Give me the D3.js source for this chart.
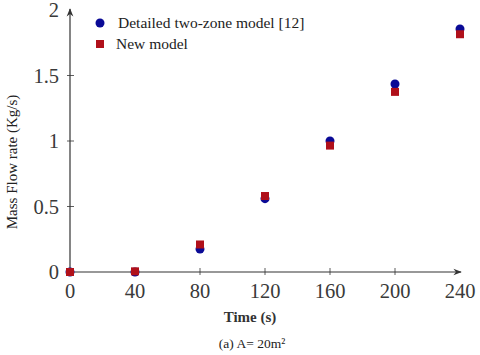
<!DOCTYPE html>
<html>
<head>
  <meta charset="utf-8">
  <script src="https://d3js.org/d3.v7.min.js"></script>
  <style>
    body { margin: 0; background: #fff; }
    text { font-family: "Liberation Serif", "Times New Roman", serif; }
  </style>
</head>
<body>
  <script>
    var times = [0, 40, 80, 120, 160, 200, 240];
    var detailed = [0, 0, 0.175, 0.56, 1.0, 1.435, 1.855];
    var newModel = [0, 0.005, 0.21, 0.58, 0.965, 1.375, 1.815];
    var xTicks = [0, 40, 80, 120, 160, 200, 240];
    var yTicks = [0, 0.5, 1, 1.5, 2];
    var yLabels = ["0", "0.5", "1", "1.5", "2"];

    var svg = d3.select("body").append("svg")
      .attr("width", 480)
      .attr("height", 355);

    var x = d3.scaleLinear().domain([0, 240]).range([70, 460]);
    var y = d3.scaleLinear().domain([0, 2]).range([272, 10]);

    var axisColor = "#333";

    // arrow marker
    svg.append("defs").append("marker")
      .attr("id", "arr")
      .attr("viewBox", "0 0 10 10")
      .attr("refX", 9).attr("refY", 5)
      .attr("markerWidth", 7).attr("markerHeight", 7)
      .attr("orient", "auto")
      .append("path")
      .attr("d", "M0,1 L10,5 L0,9 L3,5 Z")
      .attr("fill", axisColor);

    // x axis line
    svg.append("line")
      .attr("x1", x(0)).attr("x2", x(240) + 1)
      .attr("y1", y(0)).attr("y2", y(0))
      .attr("stroke", axisColor).attr("stroke-width", 1.2)
      .attr("marker-end", "url(#arr)");

    // y axis line
    svg.append("line")
      .attr("x1", x(0)).attr("x2", x(0))
      .attr("y1", y(0)).attr("y2", y(2) - 1)
      .attr("stroke", axisColor).attr("stroke-width", 1.2)
      .attr("marker-end", "url(#arr)");

    // x ticks
    svg.selectAll(".xt").data(xTicks.filter(function(d) { return d > 0 && d < 240; }))
      .enter().append("line")
      .attr("x1", function(d) { return x(d); }).attr("x2", function(d) { return x(d); })
      .attr("y1", y(0) - 4).attr("y2", y(0) + 3)
      .attr("stroke", axisColor).attr("stroke-width", 0.8);

    svg.selectAll(".xl").data(xTicks)
      .enter().append("text")
      .attr("x", function(d) { return x(d); })
      .attr("y", y(0) + 26)
      .attr("text-anchor", "middle")
      .attr("font-size", 20.5)
      .attr("fill", "#3a3a3a")
      .text(function(d) { return d; });

    // y ticks
    svg.selectAll(".yt").data(yTicks.filter(function(d) { return d > 0 && d < 2; }))
      .enter().append("line")
      .attr("x1", x(0) - 3).attr("x2", x(0) + 4)
      .attr("y1", function(d) { return y(d); }).attr("y2", function(d) { return y(d); })
      .attr("stroke", axisColor).attr("stroke-width", 0.8);

    svg.selectAll(".yl").data(yTicks)
      .enter().append("text")
      .attr("x", x(0) - 11)
      .attr("y", function(d) { return y(d) + 7; })
      .attr("text-anchor", "end")
      .attr("font-size", 20.5)
      .attr("fill", "#3a3a3a")
      .text(function(d, i) { return yLabels[i]; });

    // data points
    svg.selectAll(".det").data(times)
      .enter().append("circle")
      .attr("cx", function(d) { return x(d); })
      .attr("cy", function(d, i) { return y(detailed[i]); })
      .attr("r", 4.5)
      .attr("fill", "#0a0a96");

    svg.selectAll(".nm").data(times)
      .enter().append("rect")
      .attr("x", function(d) { return x(d) - 4; })
      .attr("y", function(d, i) { return y(newModel[i]) - 4; })
      .attr("width", 8).attr("height", 8)
      .attr("fill", "#b0101a");

    // legend
    svg.append("circle").attr("cx", 100).attr("cy", 23).attr("r", 4.5).attr("fill", "#0a0a96");
    svg.append("text").attr("x", 118).attr("y", 28).attr("font-size", 15.5).attr("fill", "#222")
      .text("Detailed two-zone model [12]");
    svg.append("rect").attr("x", 96).attr("y", 40).attr("width", 8).attr("height", 8).attr("fill", "#b0101a");
    svg.append("text").attr("x", 116).attr("y", 49).attr("font-size", 15.5).attr("fill", "#222")
      .text("New model");

    // axis labels
    svg.append("text")
      .attr("x", 250).attr("y", 322)
      .attr("text-anchor", "middle")
      .attr("font-size", 15)
      .attr("font-weight", "bold")
      .attr("fill", "#333")
      .text("Time (s)");

    svg.append("text")
      .attr("transform", "translate(17,162) rotate(-90)")
      .attr("text-anchor", "middle")
      .attr("font-size", 15)
      .attr("fill", "#222")
      .text("Mass Flow rate (Kg/s)");

    svg.append("text")
      .attr("x", 252).attr("y", 348)
      .attr("text-anchor", "middle")
      .attr("font-size", 13.5)
      .attr("fill", "#222")
      .text("(a) A= 20m²");
  </script>
</body>
</html>
